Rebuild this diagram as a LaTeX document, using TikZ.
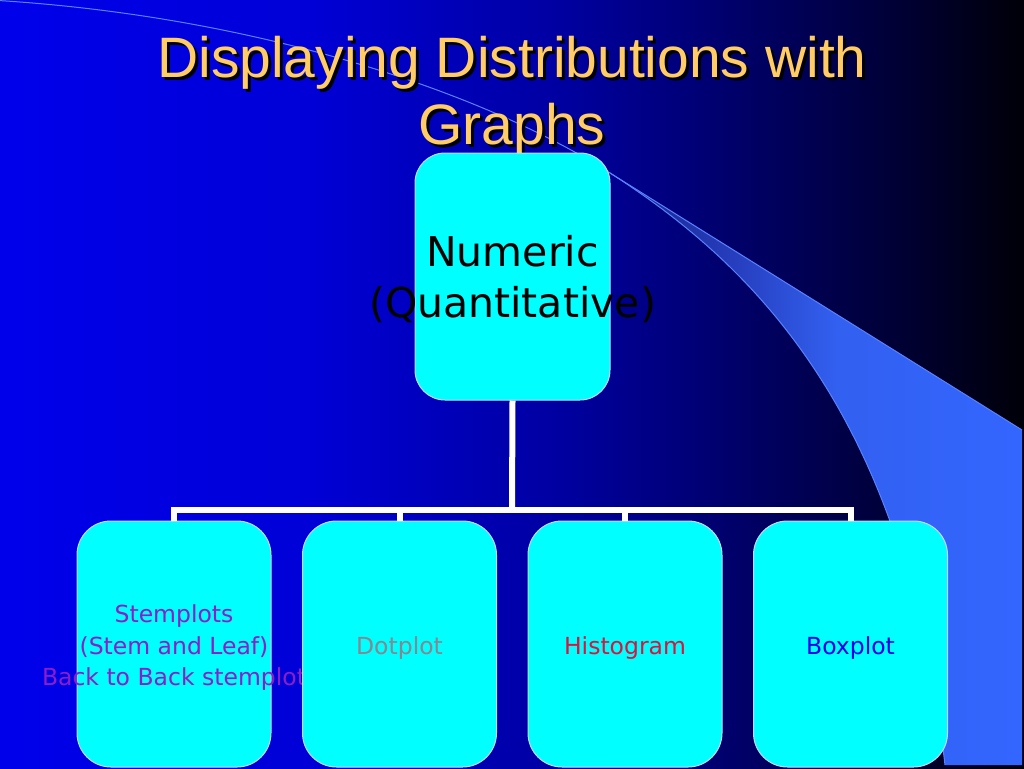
\documentclass[tikz,border=0pt]{standalone}
\usepackage{fontspec}
\setmainfont{Liberation Sans}
\newfontfamily\boxfont{DejaVu Sans}
\usepackage{tikz}
\usetikzlibrary{positioning,calc}
\definecolor{bgA}{RGB}{0,0,235}
\definecolor{bgB}{RGB}{0,0,215}
\definecolor{bgC}{RGB}{0,0,160}
\definecolor{bgD}{RGB}{0,0,95}
\definecolor{bgE}{RGB}{0,0,45}
\definecolor{bgF}{RGB}{0,0,8}
\definecolor{swA}{RGB}{22,32,130}
\definecolor{swB}{RGB}{38,62,190}
\definecolor{swC}{RGB}{50,96,240}
\definecolor{swD}{RGB}{51,102,255}
\definecolor{titlecol}{RGB}{255,204,102}
\definecolor{boxcyan}{RGB}{0,255,255}
\definecolor{edgecol}{RGB}{200,215,255}
\definecolor{arccol}{RGB}{90,130,255}
\definecolor{stemcol}{RGB}{140,30,200}
\definecolor{dotcol}{RGB}{135,135,145}
\definecolor{histcol}{RGB}{220,20,60}
\definecolor{boxpcol}{RGB}{0,0,235}
\pgfdeclarehorizontalshading{slidebg}{100bp}{color(0bp)=(bgA); color(25bp)=(bgA);
  color(40bp)=(bgB); color(52.5bp)=(bgC); color(62.5bp)=(bgD); color(70bp)=(bgE);
  color(75bp)=(bgF); color(100bp)=(bgF)}
\pgfdeclarehorizontalshading{swoosh}{100bp}{color(0bp)=(swA); color(25bp)=(swA);
  color(40bp)=(swB); color(52.5bp)=(swC); color(75bp)=(swD); color(100bp)=(swD)}

\begin{document}
\begin{tikzpicture}[x=1pt,y=-1pt,
  titletext/.style={align=center,inner sep=0pt,font=\fontsize{57}{67}\selectfont},
  topbox/.style={draw=edgecol,line width=1pt,fill=boxcyan,rounded corners=30pt,inner sep=0pt,
    minimum width=195pt,minimum height=247pt},
  toptext/.style={align=center,inner sep=0pt,yshift=-3pt,font=\boxfont\fontsize{41}{51}\selectfont},
  leafbox/.style={draw=edgecol,line width=1pt,fill=boxcyan,rounded corners=34pt,inner sep=0pt,
    minimum width=194pt,minimum height=246pt},
  leaftext/.style={align=center,inner sep=0pt,yshift=-4pt,font=\boxfont\fontsize{23.5}{31.5}\selectfont},
  link/.style={draw=white,line width=6pt}]
  \useasboundingbox (0,0) rectangle (1024,768);
  \shade[shading=slidebg] (0,0) rectangle (1024,768);
  % swoosh
  \shade[shading=swoosh] (610,173) -- (1022,430) -- (1022,765) -- (945,765)
    .. controls (905,425) and (765,272) .. (610,173) -- cycle;
  \draw[arccol,line width=1pt] (-10,0) .. controls (250,15) and (480,90) .. (610,173)
    .. controls (765,272) and (905,425) .. (945,765);
  \draw[arccol,line width=1pt] (610,173) -- (1022,430);
  % title
  \node[titletext,text=black] (titleshade) at (515,99) {Displaying Distributions with\\Graphs};
  \node[titletext,text=titlecol] (title) at (512,96) {Displaying Distributions with\\Graphs};
  % chart
  \node[topbox,label={[toptext]center:{Numeric\\(Quantitative)}}] (num) at (512.5,276.5) {};
  \node[leafbox,label={[leaftext,text=stemcol]center:{Stemplots\\(Stem and Leaf)\\Back to Back stemplot}}] (stem) at (174,644) {};
  \node[leafbox,label={[leaftext,text=dotcol]center:Dotplot}]    (dot)  at (399.5,644) {};
  \node[leafbox,label={[leaftext,text=histcol]center:Histogram}] (hist) at (625,644) {};
  \node[leafbox,label={[leaftext,text=boxpcol]center:Boxplot}]   (boxp) at (850.5,644) {};
  \coordinate (bus) at (512,510);
  \draw[link] (num.south) -- (bus);
  \draw[link] (stem.north) -- (bus -| stem.north) -- (bus -| boxp.north) -- (boxp.north);
  \draw[link] (bus -| dot.north) -- (dot.north);
  \draw[link] (bus -| hist.north) -- (hist.north);
\end{tikzpicture}
\end{document}
